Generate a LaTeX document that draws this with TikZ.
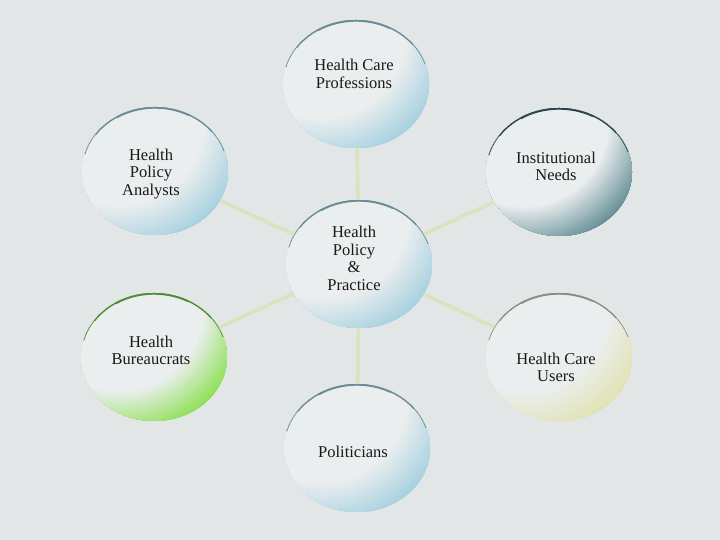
\documentclass[tikz,border=0pt]{standalone}
\usepackage{fontspec}
\setmainfont{Liberation Serif}
\usetikzlibrary{shapes.geometric}
\definecolor{paper}{RGB}{227,230,230}
\definecolor{bubblebase}{RGB}{235,238,239}
\definecolor{linkcol}{RGB}{221,225,190}
\definecolor{inkcol}{RGB}{25,25,25}
\definecolor{bluespot}{RGB}{150,202,220}
\definecolor{bluerim}{RGB}{105,140,150}
\definecolor{tealspot}{RGB}{70,122,130}
\definecolor{tealrim}{RGB}{40,70,75}
\definecolor{greenspot}{RGB}{120,222,50}
\definecolor{greenrim}{RGB}{80,140,60}
\definecolor{yellowspot}{RGB}{222,224,165}
\definecolor{yellowrim}{RGB}{140,142,132}
\begin{document}
\begin{tikzpicture}[x=1pt,y=1pt,
  bubble/.style 2 args={ellipse, fill=bubblebase, minimum width=146pt, minimum height=128pt, inner sep=0pt,
    path picture={
      \coordinate (spot) at ([shift={(-35pt,50pt)}]path picture bounding box.center);
      \foreach \k in {0,...,24} {
        \pgfmathtruncatemacro\m{\k*100/24}
        \pgfmathsetmacro\r{(\k==0 ? 180 : 141-2.3*\k)}
        \fill[bubblebase!\m!#1] (spot) circle (\r pt);
      }
      \draw[#2,line width=1.4pt] ([shift={(165:73pt and 64pt)}]path picture bounding box.center)
        arc[start angle=165,end angle=18,x radius=73pt,y radius=64pt];
      \draw[#2,line width=2.4pt] ([shift={(145:73pt and 64pt)}]path picture bounding box.center)
        arc[start angle=145,end angle=38,x radius=73pt,y radius=64pt];
      \draw[#2,line width=3.4pt] ([shift={(122:73pt and 64pt)}]path picture bounding box.center)
        arc[start angle=122,end angle=62,x radius=73pt,y radius=64pt];}},
  lbl/.style={align=center, inner sep=0pt, text=inkcol, font=\fontsize{16.5}{17.5}\selectfont},
  link/.style={linkcol, line width=3.5pt}]
\fill[paper] (0,0) rectangle (720,540);
\useasboundingbox (0,0) rectangle (720,540);
% the seven bubbles
\node[bubble={bluespot}{bluerim}] (prof) at (356,456) {};
\node[bubble={bluespot}{bluerim}] (analysts) at (155,369) {};
\node[bubble={tealspot}{tealrim}] (inst) at (559,368) {};
\node[bubble={bluespot}{bluerim}] (hub) at (359,276) {};
\node[bubble={greenspot}{greenrim}] (bureau) at (154,183) {};
\node[bubble={yellowspot}{yellowrim}] (users) at (559,183) {};
\node[bubble={bluespot}{bluerim}] (polit) at (357,92) {};
% spokes
\foreach \n in {prof,analysts,inst,users,polit,bureau}
  \draw[link] (hub) -- (\n);
% labels
\node[lbl] (profL) at ([shift={(-2pt,10pt)}]prof.center) {Health Care\\Professions};
\node[lbl] (analystsL) at ([shift={(-4pt,-3pt)}]analysts.center) {Health\\Policy\\Analysts};
\node[lbl] (instL) at ([shift={(-3pt,5.5pt)}]inst.center) {Institutional\\Needs};
\node[lbl] (hubL) at ([shift={(-5pt,5.5pt)}]hub.center) {Health\\Policy\\\&\\Practice};
\node[lbl] (bureauL) at ([shift={(-3pt,6.5pt)}]bureau.center) {Health\\Bureaucrats};
\node[lbl] (usersL) at ([shift={(-3pt,-10.5pt)}]users.center) {Health Care\\Users};
\node[lbl] (politL) at ([shift={(-4pt,-4pt)}]polit.center) {Politicians};
\end{tikzpicture}
\end{document}
